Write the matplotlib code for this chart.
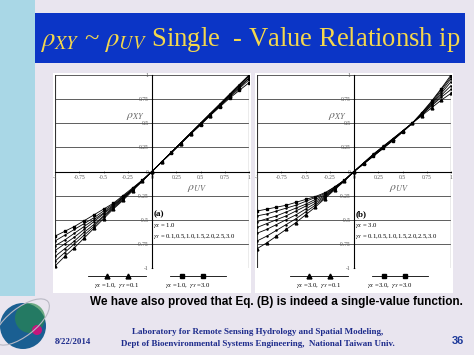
import matplotlib
matplotlib.use("Agg")
import matplotlib.pyplot as plt
from matplotlib.patches import Rectangle, Circle, Ellipse
from matplotlib.lines import Line2D

plt.rcParams['mathtext.fontset'] = 'stix'
plt.rcParams['font.family'] = ['Liberation Serif', 'DejaVu Serif']

# rho_UV values (x axis)
rho_uv = [-1.0, -0.9, -0.8, -0.7, -0.6, -0.5, -0.4, -0.3, -0.2, -0.1, 0.0,
          0.1, 0.2, 0.3, 0.4, 0.5, 0.6, 0.7, 0.8, 0.9, 1.0]
gamma_y = [0.1, 0.5, 1.0, 1.5, 2.0, 2.5, 3.0]

# panel (a): gamma_X = 1.0, one list per gamma_Y
a_g01 = [-0.98, -0.88, -0.79, -0.69, -0.59, -0.49, -0.39, -0.30, -0.20, -0.10, 0,
         0.10, 0.20, 0.29, 0.39, 0.49, 0.58, 0.68, 0.78, 0.87, 0.97]
a_g05 = [-0.93, -0.84, -0.75, -0.66, -0.57, -0.47, -0.38, -0.29, -0.19, -0.10, 0,
         0.10, 0.20, 0.30, 0.40, 0.49, 0.59, 0.69, 0.79, 0.89, 0.99]
a_g10 = [-0.88, -0.80, -0.72, -0.63, -0.55, -0.46, -0.37, -0.28, -0.19, -0.10, 0,
         0.10, 0.20, 0.30, 0.40, 0.50, 0.60, 0.70, 0.80, 0.90, 1.00]
a_g15 = [-0.82, -0.75, -0.68, -0.60, -0.52, -0.44, -0.36, -0.27, -0.19, -0.09, 0,
         0.10, 0.20, 0.30, 0.40, 0.50, 0.60, 0.70, 0.80, 0.90, 0.99]
a_g20 = [-0.77, -0.71, -0.64, -0.57, -0.50, -0.43, -0.35, -0.27, -0.18, -0.09, 0,
         0.10, 0.20, 0.30, 0.40, 0.50, 0.60, 0.69, 0.79, 0.88, 0.97]
a_g25 = [-0.72, -0.66, -0.60, -0.54, -0.48, -0.41, -0.34, -0.26, -0.18, -0.09, 0,
         0.10, 0.20, 0.30, 0.39, 0.49, 0.59, 0.68, 0.77, 0.86, 0.95]
a_g30 = [-0.67, -0.62, -0.57, -0.51, -0.45, -0.39, -0.33, -0.25, -0.17, -0.09, 0,
         0.10, 0.19, 0.29, 0.39, 0.48, 0.58, 0.67, 0.76, 0.84, 0.92]

# panel (b): gamma_X = 3.0
b_g01 = [-0.80, -0.74, -0.67, -0.60, -0.53, -0.45, -0.37, -0.28, -0.19, -0.10, 0,
         0.09, 0.18, 0.26, 0.34, 0.42, 0.50, 0.58, 0.66, 0.74, 0.81]
b_g05 = [-0.72, -0.67, -0.61, -0.55, -0.49, -0.42, -0.35, -0.27, -0.18, -0.10, 0,
         0.09, 0.18, 0.26, 0.34, 0.42, 0.50, 0.59, 0.68, 0.77, 0.85]
b_g10 = [-0.64, -0.60, -0.55, -0.50, -0.45, -0.39, -0.33, -0.26, -0.18, -0.09, 0,
         0.09, 0.17, 0.25, 0.33, 0.42, 0.50, 0.59, 0.69, 0.79, 0.89]
b_g15 = [-0.58, -0.54, -0.50, -0.46, -0.41, -0.36, -0.31, -0.25, -0.17, -0.09, 0,
         0.08, 0.17, 0.25, 0.33, 0.41, 0.50, 0.60, 0.70, 0.81, 0.93]
b_g20 = [-0.52, -0.49, -0.46, -0.42, -0.38, -0.34, -0.29, -0.24, -0.17, -0.09, 0,
         0.08, 0.16, 0.24, 0.33, 0.41, 0.50, 0.60, 0.71, 0.83, 0.96]
b_g25 = [-0.46, -0.44, -0.41, -0.38, -0.35, -0.31, -0.27, -0.23, -0.16, -0.09, 0,
         0.08, 0.16, 0.24, 0.32, 0.41, 0.50, 0.61, 0.72, 0.85, 0.98]
b_g30 = [-0.41, -0.39, -0.37, -0.35, -0.32, -0.29, -0.26, -0.22, -0.16, -0.09, 0,
         0.08, 0.16, 0.24, 0.32, 0.41, 0.50, 0.61, 0.73, 0.86, 1.00]

ticks = [-1, -0.75, -0.5, -0.25, 0, 0.25, 0.5, 0.75, 1]
tick_labels = ['-1', '-0.75', '-0.5', '-0.25', '0', '0.25', '0.5', '0.75', '1']

W, H = 474, 355
fig = plt.figure(figsize=(W / 100, H / 100), dpi=100)
fig.patch.set_facecolor('#E9E5EF')

# background layer in pixel coordinates
bg = fig.add_axes([0, 0, 1, 1], zorder=0)
bg.set_xlim(0, W)
bg.set_ylim(H, 0)
bg.axis('off')

bg.add_patch(Rectangle((0, 0), 35, 296, color='#A9D7E6', lw=0))
bg.add_patch(Rectangle((35, 13), 430, 50, color='#0B35C6', lw=0))
bg.text(40, 39, r'$\rho_{XY}$ ~ $\rho_{UV}$ Single  - Value Relationsh ip',
        color='#F4D74C', fontsize=19.2, va='center', ha='left')

# white panels
bg.add_patch(Rectangle((53, 73), 198, 220, color='white', lw=0))
bg.add_patch(Rectangle((255, 73), 198, 220, color='white', lw=0))

# logo
bg.add_patch(Circle((23, 326), 23, color='#1A5F92', lw=0))
bg.add_patch(Circle((30, 318), 15, color='#2A8A4A', lw=0, alpha=0.65))
bg.add_patch(Circle((37, 330), 5, color='#C2167C', lw=0))
bg.add_patch(Ellipse((22, 322), 66, 28, angle=-38, fill=False, ec='#B9B9C4', lw=0.8))

bg.text(463, 302, 'We have also proved that Eq. (B) is indeed a single-value function.',
        family='Liberation Sans', weight='bold', fontsize=8.5, ha='right', va='center')
bg.text(55, 342, '8/22/2014', color='#1E2C8C', weight='bold', fontsize=6.4,
        ha='left', va='center')
bg.text(258, 332, 'Laboratory for Remote Sensing Hydrology and Spatial Modeling,',
        color='#1E2C8C', weight='bold', fontsize=6.5, ha='center', va='center')
bg.text(258, 344, 'Dept of Bioenvironmental Systems Engineering,  National Taiwan Univ.',
        color='#1E2C8C', weight='bold', fontsize=6.5, ha='center', va='center')
bg.text(458, 341, '36', color='#1E3A9A', family='Liberation Sans', weight='bold',
        fontsize=8, ha='center', va='center')

panels = [
    (55, [a_g01, a_g05, a_g10, a_g15, a_g20, a_g25, a_g30], '(a)', '1.0'),
    (257, [b_g01, b_g05, b_g10, b_g15, b_g20, b_g25, b_g30], '(b)', '3.0'),
]

for left, series, tag, gx in panels:
    ax = fig.add_axes([left / W, 1 - 268 / H, 194 / W, 193 / H], zorder=2)
    ax.patch.set_alpha(0)
    ax.set_xlim(-1, 1)
    ax.set_ylim(-1, 1)
    for t in ticks:
        ax.axhline(t, color='#444444', lw=0.6, zorder=1)
    ax.axvline(-1, color='#333333', lw=0.8, zorder=1)
    ax.axvline(1, color='#999999', lw=1.0, zorder=1)
    ax.spines['left'].set_position(('data', 0))
    ax.spines['bottom'].set_position(('data', 0))
    ax.spines['top'].set_visible(False)
    ax.spines['right'].set_visible(False)
    for s in ('left', 'bottom'):
        ax.spines[s].set_linewidth(0.8)
    ax.set_xticks(ticks)
    ax.set_xticklabels(tick_labels)
    ax.set_yticks(ticks)
    ax.set_yticklabels(tick_labels)
    ax.tick_params(labelsize=4, colors='#555555', length=2, width=0.5,
                   direction='inout', pad=1.5)

    for i, vals in enumerate(series):
        if i == 0:
            ax.plot(rho_uv, vals, color='k', lw=0.6, marker='^', ms=2.0, zorder=3)
        elif i == len(series) - 1:
            ax.plot(rho_uv, vals, color='k', lw=0.6, marker='s', ms=1.6, zorder=3)
        else:
            ax.plot(rho_uv, vals, color='k', lw=0.6, marker='o', ms=0.8, zorder=3)

    ax.text(-0.27, 0.58, r'$\rho_{XY}$', fontsize=8.5, color='#666666', ha='left', va='center')
    ax.text(0.36, -0.17, r'$\rho_{UV}$', fontsize=8.5, color='#666666', ha='left', va='center')
    ax.text(0.02, -0.44, tag, fontsize=6.5, weight='bold', ha='left', va='center')
    ax.text(0.01, -0.56, r'$\gamma_X$ = ' + gx, fontsize=4.8, ha='left', va='center')
    ax.text(0.01, -0.67, r'$\gamma_Y$ = ' + ','.join(str(g) for g in gamma_y),
            fontsize=4.8, ha='left', va='center')

    # legend swatches under each panel
    off = left - 55
    bg.add_line(Line2D([88 + off, 146 + off], [276, 276], color='k', lw=0.6))
    bg.plot([107 + off, 128 + off], [276, 276], ls='none', marker='^', color='k', ms=3.5)
    bg.add_line(Line2D([170 + off, 226 + off], [276, 276], color='k', lw=0.6))
    bg.plot([182 + off, 203 + off], [276, 276], ls='none', marker='s', color='k', ms=3.2)
    bg.text(117 + off, 286, r'$\gamma_X$ =' + gx + r',  $\gamma_Y$ =0.1', fontsize=4.8,
            ha='center', va='center')
    bg.text(188 + off, 286, r'$\gamma_X$ =' + gx + r',  $\gamma_Y$ =3.0', fontsize=4.8,
            ha='center', va='center')

bg.set_xlim(0, W)
bg.set_ylim(H, 0)

fig.savefig('out.png', dpi=100, facecolor=fig.get_facecolor())
